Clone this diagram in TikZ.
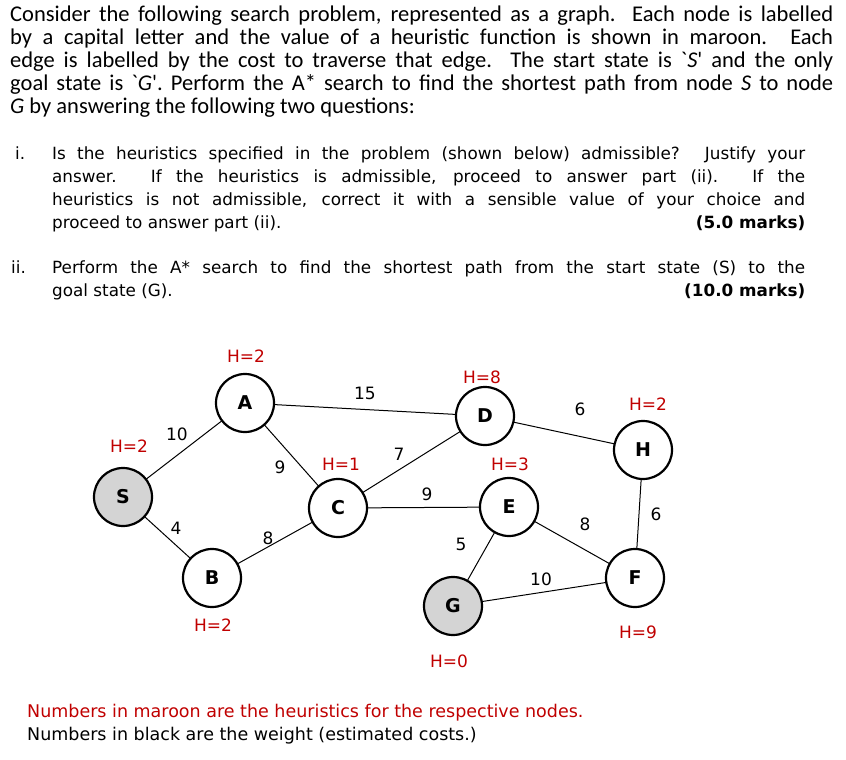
\documentclass[tikz,border=0pt]{standalone}
\usepackage{fontspec}
\setmainfont{DejaVu Sans}
\newfontfamily\calfnt{Carlito}
\definecolor{mymaroon}{RGB}{192,0,0}
\begin{document}
\begin{tikzpicture}[x=1pt,y=-1pt,
  vtx/.style={circle,draw,line width=2.2pt,minimum size=58pt,inner sep=0pt,fill=white,font=\fontsize{19}{19}\selectfont\bfseries},
  goal/.style={vtx,fill=black!17},
  hl/.style={text=mymaroon,font=\fontsize{17}{18}\selectfont},
  wl/.style={font=\fontsize{17}{18}\selectfont},
  edge/.style={line width=1pt}]
\useasboundingbox (0,0) rectangle (846,760);
\node[anchor=north west,inner sep=0pt,align=justify,text width=823pt,font=\calfnt\fontsize{22.5}{23}\selectfont] (p) at (10,6)
{Consider the following search problem, represented as a graph. Each node is labelled\linebreak
by a capital letter and the value of a heuristic function is shown in maroon. Each\linebreak
edge is labelled by the cost to traverse that edge. The start state is `\emph{S}' and the only\linebreak
goal state is `\emph{G}'. Perform the A* search to find the shortest path from node \emph{S} to node\linebreak
\emph{G} by answering the following two questions:};
\node[anchor=north west,inner sep=0pt,font=\fontsize{16.8}{23}\selectfont] (i) at (15,147) {i.};
\node[anchor=north west,inner sep=0pt,align=justify,text width=753pt,font=\fontsize{16.8}{23}\selectfont] (pi) at (52,147)
{Is the heuristics specified in the problem (shown below) admissible? Justify your\linebreak
answer. If the heuristics is admissible, proceed to answer part (ii). If the\linebreak
heuristics is not admissible, correct it with a sensible value of your choice and\linebreak
proceed to answer part (ii).\hfill\textbf{(5.0 marks)}};
\node[anchor=north west,inner sep=0pt,font=\fontsize{16.8}{23}\selectfont] (ii) at (11,261) {ii.};
\node[anchor=north west,inner sep=0pt,align=justify,text width=753pt,font=\fontsize{16.8}{23}\selectfont] (pii) at (52,261)
{Perform the A* search to find the shortest path from the start state (S) to the\linebreak
goal state (G).\hfill\textbf{(10.0 marks)}};

\coordinate (cA) at (245,403); \coordinate (cS) at (123,497);
\coordinate (cB) at (212,578); \coordinate (cC) at (338,508);
\coordinate (cD) at (485,416); \coordinate (cE) at (509,507);
\coordinate (cG) at (453,606); \coordinate (cH) at (643,450);
\coordinate (cF) at (635,578);
\draw[edge] (cS)--(cA) (cS)--(cB) (cA)--(cC) (cB)--(cC) (cA)--(cD) (cC)--(cD)
  (cC)--(cE) (cE)--(cG) (cD)--(cH) (cE)--(cF) (cG)--(cF) (cH)--(cF);
\node[vtx] (A) at (cA) {A};
\node[goal] (S) at (cS) {S};
\node[vtx] (B) at (cB) {B};
\node[vtx] (C) at (cC) {C};
\node[vtx] (D) at (cD) {D};
\node[vtx] (E) at (cE) {E};
\node[goal] (G) at (cG) {G};
\node[vtx] (H) at (cH) {H};
\node[vtx] (F) at (cF) {F};

\node[hl] (hA) at (246,356) {H=2};
\node[hl] (hS) at (129,446) {H=2};
\node[hl] (hB) at (213,625) {H=2};
\node[hl] (hC) at (341,464) {H=1};
\node[hl] (hD) at (482,377) {H=8};
\node[hl] (hE) at (510,464) {H=3};
\node[hl] (hH) at (648,404) {H=2};
\node[hl] (hF) at (638,632) {H=9};
\node[hl] (hG) at (449,661) {H=0};

\node[wl] (wSA) at (177,434) {10};
\node[wl] (wSB) at (176,528) {4};
\node[wl] (wAC) at (280,467) {9};
\node[wl] (wBC) at (268,538) {8};
\node[wl] (wAD) at (365,393) {15};
\node[wl] (wCD) at (399,454) {7};
\node[wl] (wCE) at (427,494) {9};
\node[wl] (wEG) at (461,544) {5};
\node[wl] (wDH) at (580,409) {6};
\node[wl] (wEF) at (585,524) {8};
\node[wl] (wGF) at (541,579) {10};
\node[wl] (wHF) at (656,514) {6};

\node[anchor=west,inner sep=0pt,text=mymaroon,font=\fontsize{17.5}{18}\selectfont] (n1) at (27,713) {Numbers in maroon are the heuristics for the respective nodes.};
\node[anchor=west,inner sep=0pt,font=\fontsize{17.5}{18}\selectfont] (n2) at (27,736) {Numbers in black are the weight (estimated costs.)};
\end{tikzpicture}
\end{document}
